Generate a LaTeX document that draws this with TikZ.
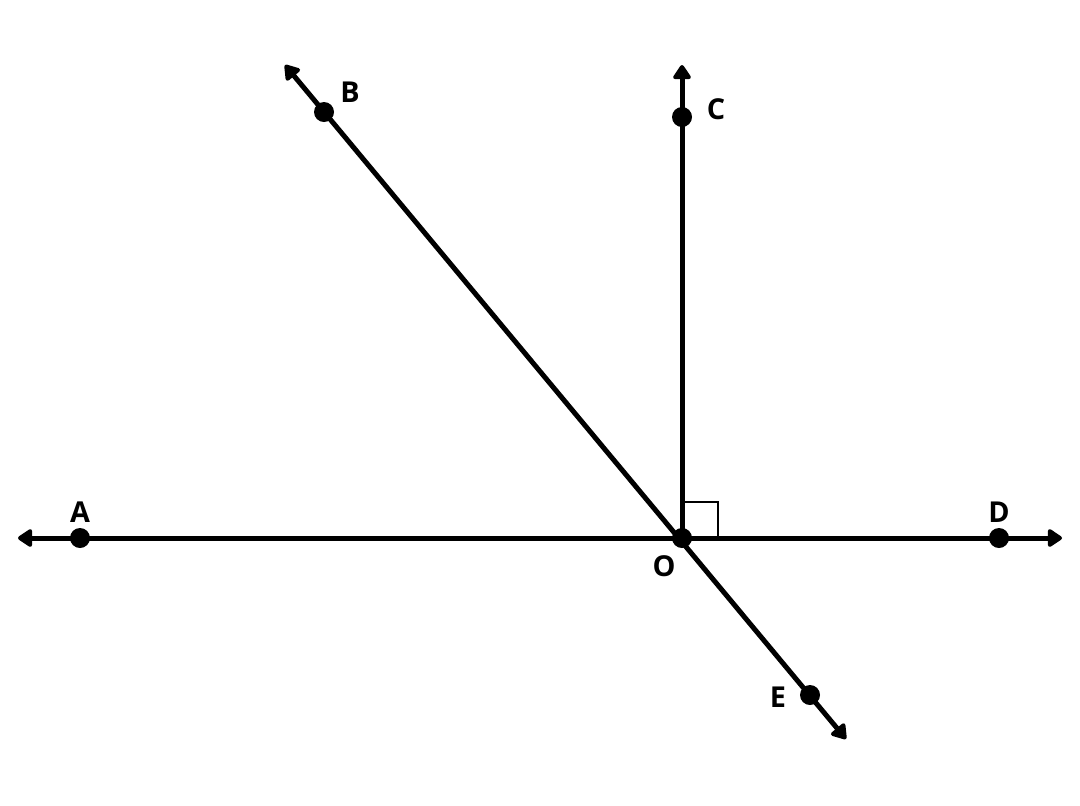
\documentclass[tikz,border=0pt]{standalone}
\usepackage{fontspec}
\setsansfont{Open Sans}
\usetikzlibrary{arrows.meta}

\begin{document}
\begin{tikzpicture}[x=0.5pt,y=-0.5pt]
\useasboundingbox (0,0) rectangle (1080,805);
\path (682,538) coordinate (O);
\path (80,538) coordinate (A);
\path (999,538) coordinate (D);
\path (682,117) coordinate (C);
\path (324,112) coordinate (B);
\path (810,695) coordinate (E);
\path (18,538) coordinate (Aend);
\path (1062,538) coordinate (Dend);
\path (682,65) coordinate (Cend);
\path (285,65) coordinate (Bend);
\path (846,739) coordinate (Eend);
\draw[{Triangle[length=8pt,width=10pt,round]}-{Triangle[length=8pt,width=10pt,round]},line width=2.5pt] (Aend) -- (Dend);
\draw[-{Triangle[length=8pt,width=10pt,round]},line width=2.5pt] (O) -- (Cend);
\draw[{Triangle[length=8pt,width=10pt,round]}-{Triangle[length=8pt,width=10pt,round]},line width=2.5pt] (Bend) -- (Eend);
\draw[line width=1pt] (O) ++(0,-36) -- ++(36,0) -- ++(0,36);
\foreach \p in {A,B,C,D,E,O}
  \fill (\p) circle (5pt);
\node [yshift=13pt] at (A) {\sffamily\bfseries\Large A};
\node [yshift=10pt,xshift=13pt] at (B) {\sffamily\bfseries\Large B};
\node [yshift=4pt,xshift=17pt] at (C) {\sffamily\bfseries\Large C};
\node [yshift=13pt] at (D) {\sffamily\bfseries\Large D};
\node [yshift=-14pt,xshift=-9pt] at (O) {\sffamily\bfseries\Large O};
\node [yshift=-1pt,xshift=-16pt] at (E) {\sffamily\bfseries\Large E};
\end{tikzpicture}
\end{document}
